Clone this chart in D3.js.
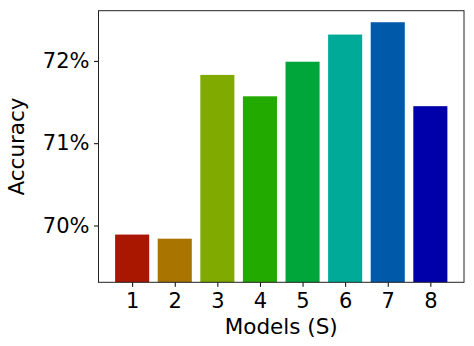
<!DOCTYPE html>
<html><head><meta charset="utf-8">
<script src="https://cdn.jsdelivr.net/npm/d3@7"></script>
<style>body{margin:0;background:#fff}svg{display:block}</style>
</head><body>
<svg id="c" width="474" height="346"></svg>
<script>
const categories = [1,2,3,4,5,6,7,8];
const accuracy = [69.89, 69.84, 71.83, 71.57, 71.99, 72.32, 72.47, 71.45];
const colors = ["#aa1700","#aa7400","#80aa00","#22aa00","#00a639","#00aa99","#005aaa","#0000aa"];
const yTicks = [70, 71, 72];

const svg = d3.select("#c");
const L = 98.5, R = 464, T = 10.7, B = 282.3;
const x = d3.scaleLinear().domain([0.21, 8.79]).range([L, R]);
const y = d3.scaleLinear().domain([69.31, 72.61]).range([B, T]);
const font = "DejaVu Sans, sans-serif";

svg.selectAll("rect.bar").data(categories).enter().append("rect")
  .attr("x", (d) => x(d - 0.4))
  .attr("width", (d) => x(d + 0.4) - x(d - 0.4))
  .attr("y", (d, i) => y(accuracy[i]))
  .attr("height", (d, i) => B - y(accuracy[i]))
  .attr("fill", (d, i) => colors[i]);

const xa = svg.append("g").attr("transform", `translate(0,${B})`)
  .call(d3.axisBottom(x).tickValues(categories).tickSize(4.5).tickPadding(6.5).tickFormat(d3.format("d")));
const ya = svg.append("g").attr("transform", `translate(${L},0)`)
  .call(d3.axisLeft(y).tickValues(yTicks).tickSize(4.5).tickPadding(4.5).tickFormat(d => d + "%"));
[xa, ya].forEach(g => {
  g.select(".domain").remove();
  g.selectAll("text").attr("font-family", font).attr("font-size", 21).attr("fill", "#000");
  g.selectAll("line").attr("stroke", "#000").attr("stroke-width", 1);
});
svg.append("rect").attr("x", L).attr("y", T).attr("width", R - L).attr("height", B - T)
  .attr("fill", "none").attr("stroke", "#222").attr("stroke-width", 1);

svg.append("text").attr("x", (L + R) / 2).attr("y", 334).attr("text-anchor", "middle")
  .attr("font-family", font).attr("font-size", 21.5).text("Models (S)");
svg.append("text").attr("transform", `translate(23.5,${(T + B) / 2}) rotate(-90)`).attr("text-anchor", "middle")
  .attr("font-family", font).attr("font-size", 21.5).text("Accuracy");
</script>
</body></html>
